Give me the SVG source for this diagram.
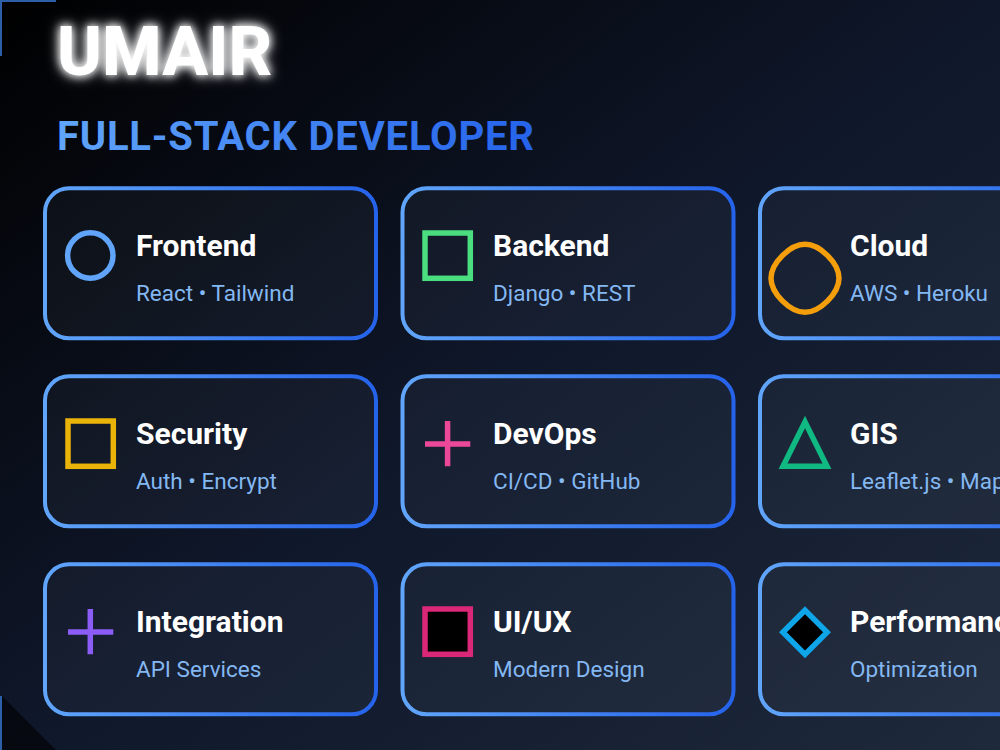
<svg xmlns="http://www.w3.org/2000/svg" width="1000" height="750" viewBox="0 0 1000 750">
<defs>
<linearGradient id="bg" x1="0" y1="0" x2="1" y2="1"><stop offset="0" stop-color="#000000"/><stop offset=".5" stop-color="#0f172a"/><stop offset="1" stop-color="#1e293b"/></linearGradient>
<linearGradient id="bd" gradientUnits="objectBoundingBox" x1="0" y1="0" x2="1" y2="0"><stop offset="0" stop-color="#60a5fa"/><stop offset="1" stop-color="#2563eb"/></linearGradient>
<linearGradient id="ttl" gradientUnits="userSpaceOnUse" x1="57" y1="0" x2="533" y2="0"><stop offset="0" stop-color="#60a5fa"/><stop offset="1" stop-color="#2563eb"/></linearGradient>
<filter id="glow" x="-30%" y="-60%" width="160%" height="220%"><feGaussianBlur stdDeviation="7" result="b"/><feGaussianBlur in="SourceGraphic" stdDeviation="4" result="c"/><feMerge><feMergeNode in="b"/><feMergeNode in="c"/><feMergeNode in="SourceGraphic"/></feMerge></filter>
<rect id="card" width="331" height="150" rx="24" ry="24"/>
</defs>
<style>
.card{fill:#94a3b8;fill-opacity:.06;stroke:url(#bd);stroke-width:4}
.t{font-family:Roboto,"Liberation Sans",sans-serif;font-weight:700;font-size:30px;fill:#fff}
.s{font-family:Roboto,"Liberation Sans",sans-serif;font-size:22.5px;fill:#84b8f2}
.i{fill:none;stroke-width:5.5}
</style>
<rect width="1000" height="750" fill="url(#bg)"/>
<g id="corners" fill="none" stroke="#2c5fa8" stroke-width="2">
<path d="M2 696L56 750H2Z" fill="#000" fill-opacity=".6" stroke="none"/>
<path d="M1 56V1H56"/>
<path d="M1 696V750"/>
</g>
<text x="57" y="75" font-family="Roboto,'Liberation Sans',sans-serif" font-weight="800" font-size="68" fill="#fff" filter="url(#glow)">UMAIR</text>
<text x="57" y="150" font-family="Roboto,'Liberation Sans',sans-serif" font-weight="700" font-size="40" letter-spacing=".8" fill="url(#ttl)">FULL-STACK DEVELOPER</text>
<g id="n-frontend"><use href="#card" class="card" x="45" y="188.3"/><circle class="i" stroke="#60a5fa" cx="90.3" cy="255.5" r="22.7"/><text class="t" x="136" y="256">Frontend</text><text class="s" x="136" y="301">React • Tailwind</text></g>
<g id="n-backend"><use href="#card" class="card" x="402.5" y="188.3"/><rect class="i" stroke="#4ade80" x="425" y="233" width="45.3" height="45.3"/><text class="t" x="493" y="256">Backend</text><text class="s" x="493" y="301">Django • REST</text></g>
<g id="n-cloud"><use href="#card" class="card" x="760" y="188.3"/><path class="i" stroke="#f59e0b" d="M805 244.3C820 244.3 839 263.3 839 278.3C839 293.3 820 312.3 805 312.3C790 312.3 771 293.3 771 278.3C771 263.3 790 244.3 805 244.3Z"/><text class="t" x="850" y="256">Cloud</text><text class="s" x="850" y="301">AWS • Heroku</text></g>
<g id="n-security"><use href="#card" class="card" x="45" y="376.3"/><rect class="i" stroke="#eab308" x="68" y="421" width="45.3" height="45.3"/><text class="t" x="136" y="444">Security</text><text class="s" x="136" y="489">Auth • Encrypt</text></g>
<g id="n-devops"><use href="#card" class="card" x="402.5" y="376.3"/><path class="i" stroke="#ec4899" d="M425 444H470.3M447.6 421V466.3"/><text class="t" x="493" y="444">DevOps</text><text class="s" x="493" y="489">CI/CD • GitHub</text></g>
<g id="n-gis"><use href="#card" class="card" x="760" y="376.3"/><path class="i" stroke="#10b981" d="M805 422L827 466.3H783Z"/><text class="t" x="850" y="444">GIS</text><text class="s" x="850" y="489">Leaflet.js • Maps</text></g>
<g id="n-integration"><use href="#card" class="card" x="45" y="564.3"/><path class="i" stroke="#8b5cf6" d="M68 632H113.3M90.3 609V654.3"/><text class="t" x="136" y="632">Integration</text><text class="s" x="136" y="677">API Services</text></g>
<g id="n-uiux"><use href="#card" class="card" x="402.5" y="564.3"/><rect class="i" style="fill:#000" stroke="#db2777" x="425" y="609" width="45.3" height="45.3"/><text class="t" x="493" y="632">UI/UX</text><text class="s" x="493" y="677">Modern Design</text></g>
<g id="n-performance"><use href="#card" class="card" x="760" y="564.3"/><path class="i" style="fill:#000" stroke="#0ea5e9" d="M805 610.2L827.1 632.3L805 654.4L782.9 632.3Z"/><text class="t" x="850" y="632">Performance</text><text class="s" x="850" y="677">Optimization</text></g>
<g id="connectors"/>
</svg>
